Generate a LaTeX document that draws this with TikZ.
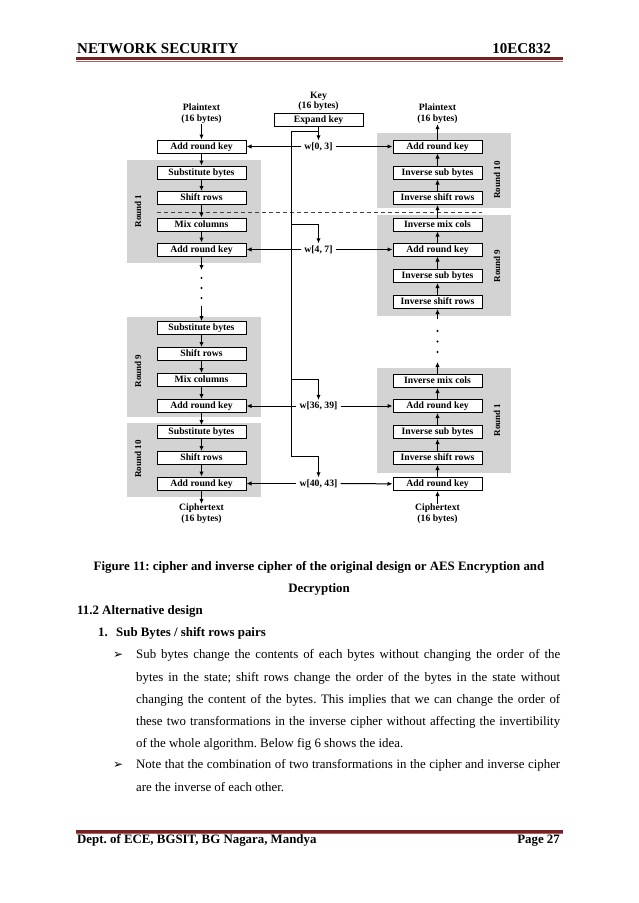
\documentclass[tikz,border=0pt]{standalone}
\usepackage{fontspec}
\setmainfont{Liberation Serif}
\newfontfamily\dejavu{DejaVu Sans}
\usetikzlibrary{arrows.meta}
\definecolor{rgray}{RGB}{211,211,211}
\definecolor{hdark}{RGB}{115,35,35}
\definecolor{hlight}{RGB}{175,95,95}
\frenchspacing
\begin{document}
\frenchspacing
\begin{tikzpicture}[x=1pt,y=-1pt,
  dfont/.style={font=\fontsize{9.7}{11}\selectfont\bfseries},
  blk/.style={draw, fill=white, line width=1pt, minimum width=89pt, minimum height=13pt, inner sep=0pt, text height=7pt, text depth=1.6pt, dfont},
  lbl/.style={inner sep=0pt, dfont, align=center},
  wl/.style={fill=white, inner xsep=3pt, inner ysep=1.5pt, text height=7pt, text depth=1.8pt, dfont},
  arr/.style={line width=1pt, -{Latex[length=5pt,width=4.3pt]}},
  ln/.style={line width=1pt},
  rlab/.style={rotate=90, inner sep=0pt, font=\fontsize{9}{10}\selectfont\bfseries},
  dotm/.style={fill=black},
  bodyt/.style={anchor=base west, inner sep=0pt, font=\fontsize{12.87}{15}\selectfont},
  boldt/.style={anchor=base west, inner sep=0pt, font=\fontsize{12.87}{15}\selectfont\bfseries},
  capt/.style={anchor=base, inner sep=0pt, font=\fontsize{12.87}{15}\selectfont\bfseries},
  bul/.style={anchor=base west, inner sep=0pt, font=\dejavu\fontsize{12}{14}\selectfont}
]
\useasboundingbox (0,0) rectangle (638,903);
\fill[white] (0,0) rectangle (638,903);

% ---------- header ----------
\node[anchor=base west, inner sep=0pt, font=\fontsize{15}{18}\selectfont\bfseries] (hl) at (77,53) {NETWORK SECURITY};
\node[anchor=base east, inner sep=0pt, font=\fontsize{15}{18}\selectfont\bfseries] (hr) at (551,53) {10EC832};
\draw[line width=3pt, hdark] (76,58.8) -- (563,58.8);
\draw[line width=0.9pt, hlight] (76,61.2) -- (563,61.2);

% ---------- gray round regions ----------
\fill[rgray] (127,160) rectangle (261,263);
\fill[rgray] (127,317) rectangle (261,417);
\fill[rgray] (127,423) rectangle (261,497);
\fill[rgray] (377,133) rectangle (511,208);
\fill[rgray] (377,215) rectangle (511,316);
\fill[rgray] (377,368) rectangle (511,473);

\draw[black!75, line width=0.7pt, dash pattern=on 4pt off 3pt] (157,212) -- (482,212);

% ---------- round labels ----------
\node[rlab] (lr1) at (138,211) {Round 1};
\node[rlab] (lr9) at (138,371) {Round 9};
\node[rlab] (lr10) at (138,459) {Round 10};
\node[rlab] (rr10) at (497,180) {Round 10};
\node[rlab] (rr9) at (497,266) {Round 9};
\node[rlab] (rr1) at (497,420) {Round 1};

% ---------- left (cipher) ----------
\node[lbl] (lpt) at (201.5,114) {Plaintext\\(16 bytes)};
\node[blk] (lark0) at (201.5,146.5) {Add round key};
\node[blk] (lsb1) at (201.5,172.5) {Substitute bytes};
\node[blk] (lsr1) at (201.5,198) {Shift rows};
\node[blk] (lmc1) at (201.5,224.5) {Mix columns};
\node[blk] (lark1) at (201.5,249.5) {Add round key};
\node[blk] (lsb9) at (201.5,328) {Substitute bytes};
\node[blk] (lsr9) at (201.5,354) {Shift rows};
\node[blk] (lmc9) at (201.5,380) {Mix columns};
\node[blk] (lark9) at (201.5,406) {Add round key};
\node[blk] (lsb10) at (201.5,432) {Substitute bytes};
\node[blk] (lsr10) at (201.5,458) {Shift rows};
\node[blk] (lark10) at (201.5,483.5) {Add round key};
\node[lbl] (lct) at (201.5,514) {Ciphertext\\(16 bytes)};

\draw[arr] (lpt) -- (lark0);
\draw[arr] (lark0) -- (lsb1);
\draw[arr] (lsb1) -- (lsr1);
\draw[arr] (lsr1) -- (lmc1);
\draw[arr] (lmc1) -- (lark1);
\coordinate (ld1) at (201.5,270);
\coordinate (ld2) at (201.5,306);
\draw[arr] (lark1) -- (ld1);
\fill[dotm] (201.5,278) circle (1.1pt);
\fill[dotm] (201.5,288) circle (1.1pt);
\fill[dotm] (201.5,298) circle (1.1pt);
\draw[arr] (ld2) -- (lsb9);
\draw[arr] (lsb9) -- (lsr9);
\draw[arr] (lsr9) -- (lmc9);
\draw[arr] (lmc9) -- (lark9);
\draw[arr] (lark9) -- (lsb10);
\draw[arr] (lsb10) -- (lsr10);
\draw[arr] (lsr10) -- (lark10);
\draw[arr] (lark10) -- (lct);

% ---------- right (inverse cipher) ----------
\node[lbl] (rpt) at (437.5,114) {Plaintext\\(16 bytes)};
\node[blk] (rark0) at (437.5,146.5) {Add round key};
\node[blk] (risb0) at (437.5,172.5) {Inverse sub bytes};
\node[blk] (risr0) at (437.5,198) {Inverse shift rows};
\node[blk] (rimc1) at (437.5,224.5) {Inverse mix cols};
\node[blk] (rark1) at (437.5,249.5) {Add round key};
\node[blk] (risb1) at (437.5,276) {Inverse sub bytes};
\node[blk] (risr1) at (437.5,302) {Inverse shift rows};
\node[blk] (rimc9) at (437.5,381) {Inverse mix cols};
\node[blk] (rark9) at (437.5,406) {Add round key};
\node[blk] (risb9) at (437.5,432) {Inverse sub bytes};
\node[blk] (risr9) at (437.5,458) {Inverse shift rows};
\node[blk] (rark10) at (437.5,484) {Add round key};
\node[lbl] (rct) at (437.5,514) {Ciphertext\\(16 bytes)};

\draw[arr] (rark0) -- (rpt);
\draw[arr] (risb0) -- (rark0);
\draw[arr] (risr0) -- (risb0);
\draw[arr] (rimc1) -- (risr0);
\draw[arr] (rark1) -- (rimc1);
\draw[arr] (risb1) -- (rark1);
\draw[arr] (risr1) -- (risb1);
\coordinate (rd1) at (437.5,362);
\coordinate (rd2) at (437.5,319);
\draw[arr] (rd2) -- (risr1);
\fill[dotm] (437.5,331) circle (1.1pt);
\fill[dotm] (437.5,341.5) circle (1.1pt);
\fill[dotm] (437.5,352) circle (1.1pt);
\draw[arr] (rimc9) -- (rd1);
\draw[arr] (rark9) -- (rimc9);
\draw[arr] (risb9) -- (rark9);
\draw[arr] (risr9) -- (risb9);
\draw[arr] (rark10) -- (risr9);
\draw[arr] (rct) -- (rark10);

% ---------- key schedule ----------
\node[lbl] (key) at (318.5,101) {Key\\[-1pt](16 bytes)};
\node[blk] (ek) at (318.5,119.5) {Expand key};
\node[wl] (w03) at (318.5,146.5) {w[0, 3]};
\node[wl] (w47) at (318.5,249.5) {w[4, 7]};
\node[wl] (w3639) at (318.5,406) {w[36, 39]};
\node[wl] (w4043) at (318.5,483.5) {w[40, 43]};

\coordinate (b0) at (291,131);
\coordinate (b1) at (291,224);
\coordinate (b2) at (291,379);
\coordinate (b3) at (291,456);
\draw[ln] (b3) -- (b0) -- (b0 -| ek.south);
\draw[arr] (ek) -- (w03);
\draw[arr] (b1) -| (w47.north);
\draw[arr] (b2) -| (w3639.north);
\draw[arr] (b3) -| (w4043.north);

\draw[arr] (w03) -- (lark0);
\draw[arr] (w03) -- (rark0);
\draw[arr] (w47) -- (lark1);
\draw[arr] (w47) -- (rark1);
\draw[arr] (w3639) -- (lark9);
\draw[arr] (w3639) -- (rark9);
\draw[arr] (w4043) -- (lark10);
\draw[arr] (w4043) -- (rark10);

% ---------- caption and text ----------
\node[capt] (cap1) at (319,570) {Figure 11: cipher and inverse cipher of the original design or AES Encryption and};
\node[capt] (cap2) at (319,592) {Decryption};
\node[boldt] (h112) at (77,614) {11.2 Alternative design};
\node[boldt] (n1) at (98,636) {1.};
\node[boldt] (n1t) at (116,636) {Sub Bytes / shift rows pairs};

\node[bul] (bu1) at (113,658) {➢};
\node[bodyt] (t1) at (136,658) {\makebox[424pt][s]{Sub bytes change the contents of each bytes without changing the order of the}};
\node[bodyt] (t2) at (136,681) {\makebox[424pt][s]{bytes in the state; shift rows change the order of the bytes in the state without}};
\node[bodyt] (t3) at (136,703) {\makebox[424pt][s]{changing the content of the bytes. This implies that we can change the order of}};
\node[bodyt] (t4) at (136,725) {\makebox[424pt][s]{these two transformations in the inverse cipher without affecting the invertibility}};
\node[bodyt] (t5) at (136,747) {of the whole algorithm. Below fig 6 shows the idea.};
\node[bul] (bu2) at (113,768) {➢};
\node[bodyt] (t6) at (136,768) {\makebox[424pt][s]{Note that the combination of two transformations in the cipher and inverse cipher}};
\node[bodyt] (t7) at (136,791) {are the inverse of each other.};

% ---------- footer ----------
\draw[line width=3pt, hdark] (76,831.5) -- (563,831.5);
\draw[line width=0.9pt, hlight] (76,833.9) -- (563,833.9);
\node[boldt] (fl) at (77,843) {Dept. of ECE, BGSIT, BG Nagara, Mandya};
\node[anchor=base east, inner sep=0pt, font=\fontsize{12.87}{15}\selectfont\bfseries] (fr) at (560,843) {Page 27};
\end{tikzpicture}
\end{document}
